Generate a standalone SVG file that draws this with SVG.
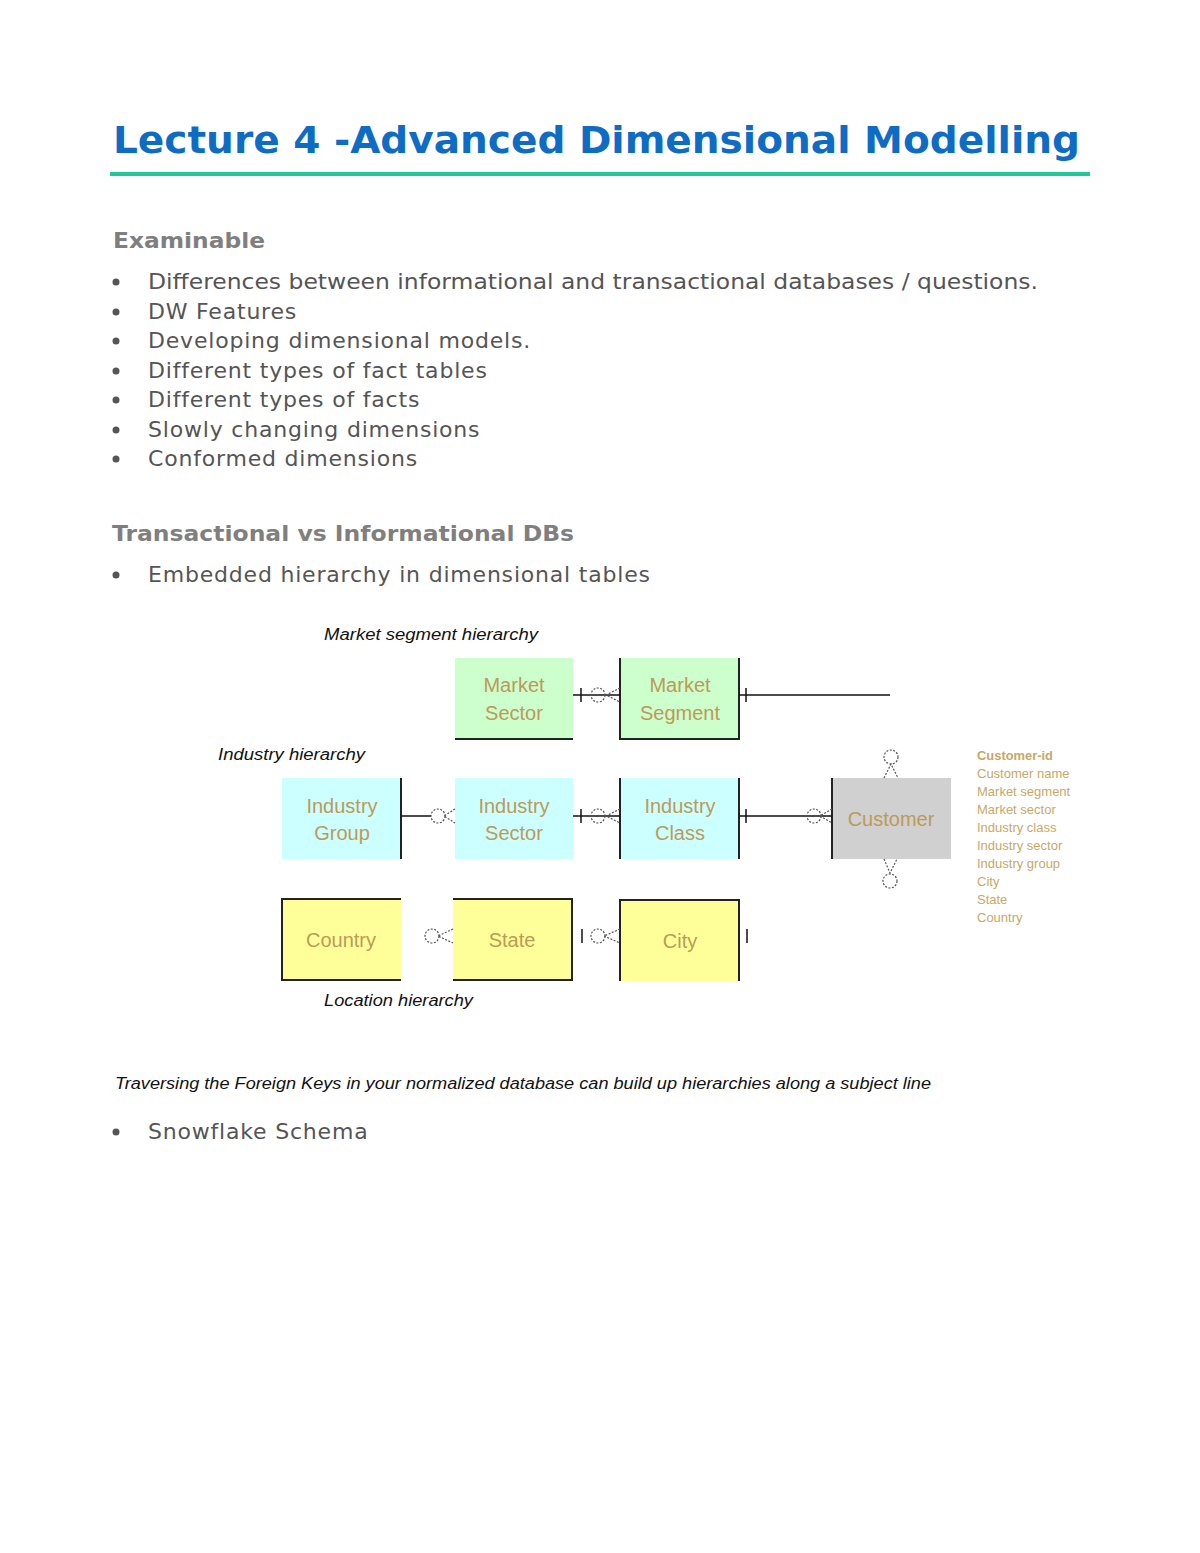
<svg xmlns="http://www.w3.org/2000/svg" width="1200" height="1553" viewBox="0 0 1200 1553">
<style>
.title{font-family:"DejaVu Sans",Verdana,sans-serif;font-weight:bold;font-size:38px;fill:#0f6cc4}
.h2{font-family:"DejaVu Sans",Verdana,sans-serif;font-weight:bold;font-size:21px;fill:#7f7f7f}
.body{font-family:"DejaVu Sans",Verdana,sans-serif;font-size:22px;fill:#555555;letter-spacing:0.8px}
.it{font-family:"Liberation Sans",Arial,sans-serif;font-style:italic;font-size:16px;fill:#111111}
.lbl{font-family:"Liberation Sans",Arial,sans-serif;font-size:20px;fill:#bd9a58;text-anchor:middle}
.attr{font-family:"Liberation Sans",Arial,sans-serif;font-size:13px;fill:#c8a866}
.bul{fill:#555555}
.bd{stroke:#222;stroke-width:2;fill:none}
.ln{stroke:#111;stroke-width:1.5;fill:none}
.ds{stroke:#555;stroke-width:1.2;stroke-dasharray:2 1.5;fill:none}
</style>

<g id="header">
<text class="title" x="113" y="153" textLength="967" lengthAdjust="spacingAndGlyphs">Lecture 4 -Advanced Dimensional Modelling</text>
<rect x="110" y="172" width="980" height="4" fill="#20c997"/>
</g>

<g id="examinable">
<text class="h2" x="113" y="248" textLength="152" lengthAdjust="spacingAndGlyphs" style="font-size:22px">Examinable</text>
<circle class="bul" cx="116" cy="282" r="3.5"/>
<text class="body" x="148" y="289" textLength="890" lengthAdjust="spacingAndGlyphs" style="letter-spacing:0">Differences between informational and transactional databases / questions.</text>
<circle class="bul" cx="116" cy="312" r="3.5"/>
<text class="body" x="148" y="319">DW Features</text>
<circle class="bul" cx="116" cy="341" r="3.5"/>
<text class="body" x="148" y="348">Developing dimensional models.</text>
<circle class="bul" cx="116" cy="371" r="3.5"/>
<text class="body" x="148" y="378">Different types of fact tables</text>
<circle class="bul" cx="116" cy="400" r="3.5"/>
<text class="body" x="148" y="407">Different types of facts</text>
<circle class="bul" cx="116" cy="430" r="3.5"/>
<text class="body" x="148" y="437">Slowly changing dimensions</text>
<circle class="bul" cx="116" cy="459" r="3.5"/>
<text class="body" x="148" y="466">Conformed dimensions</text>
</g>

<g id="section2">
<text class="h2" x="112" y="541" textLength="462" lengthAdjust="spacingAndGlyphs">Transactional vs Informational DBs</text>
<circle class="bul" cx="116" cy="575" r="3.5"/>
<text class="body" x="148" y="582">Embedded hierarchy in dimensional tables</text>
</g>

<g id="labels">
<text class="it" x="324" y="640" textLength="214" lengthAdjust="spacingAndGlyphs">Market segment hierarchy</text>
<text class="it" x="218" y="760" textLength="147" lengthAdjust="spacingAndGlyphs">Industry hierarchy</text>
<text class="it" x="324" y="1006" textLength="149" lengthAdjust="spacingAndGlyphs">Location hierarchy</text>
</g>

<g id="market-sector">
<rect x="455" y="658" width="118" height="81" fill="#ccffcc"/>
<line class="bd" x1="455" y1="739" x2="573" y2="739"/>
<text class="lbl" x="514" y="692">Market</text>
<text class="lbl" x="514" y="720">Sector</text>
</g>

<g id="market-segment">
<rect x="620" y="658" width="119" height="81" fill="#ccffcc"/>
<path class="bd" d="M620 658 V739 H739 V658"/>
<text class="lbl" x="680" y="692">Market</text>
<text class="lbl" x="680" y="720">Segment</text>
</g>

<g id="industry-group">
<rect x="282" y="778" width="119" height="81" fill="#ccffff"/>
<line class="bd" x1="401" y1="778" x2="401" y2="859"/>
<text class="lbl" x="342" y="813">Industry</text>
<text class="lbl" x="342" y="840">Group</text>
</g>

<g id="industry-sector">
<rect x="455" y="778" width="118" height="81" fill="#ccffff"/>
<text class="lbl" x="514" y="813">Industry</text>
<text class="lbl" x="514" y="840">Sector</text>
</g>

<g id="industry-class">
<rect x="620" y="778" width="119" height="81" fill="#ccffff"/>
<path class="bd" d="M620 778 V859 M739 778 V859"/>
<text class="lbl" x="680" y="813">Industry</text>
<text class="lbl" x="680" y="840">Class</text>
</g>

<g id="customer">
<rect x="832" y="778" width="119" height="81" fill="#d0d0d0"/>
<line class="bd" x1="832" y1="778" x2="832" y2="859"/>
<text class="lbl" x="891" y="826">Customer</text>
</g>

<g id="country">
<rect x="282" y="899" width="119" height="81" fill="#ffff99"/>
<path class="bd" d="M401 899 H282 V980 H401"/>
<text class="lbl" x="341" y="947">Country</text>
</g>

<g id="state">
<rect x="453" y="899" width="119" height="81" fill="#ffff99"/>
<path class="bd" d="M453 899 H572 V980 H453"/>
<text class="lbl" x="512" y="947">State</text>
</g>

<g id="city">
<rect x="620" y="900" width="119" height="81" fill="#ffff99"/>
<path class="bd" d="M620 981 V900 H739 V981"/>
<text class="lbl" x="680" y="948">City</text>
</g>

<g id="customer-attributes">
<text class="attr" x="977" y="760" font-weight="bold" textLength="76" lengthAdjust="spacingAndGlyphs">Customer-id</text>
<text class="attr" x="977" y="778">Customer name</text>
<text class="attr" x="977" y="796">Market segment</text>
<text class="attr" x="977" y="814">Market sector</text>
<text class="attr" x="977" y="832">Industry class</text>
<text class="attr" x="977" y="850">Industry sector</text>
<text class="attr" x="977" y="868">Industry group</text>
<text class="attr" x="977" y="886">City</text>
<text class="attr" x="977" y="904">State</text>
<text class="attr" x="977" y="922">Country</text>
</g>

<g id="connectors">
<!-- Market Sector - Market Segment -->
<line class="ln" x1="573" y1="695" x2="620" y2="695"/>
<line class="ln" x1="581" y1="688" x2="581" y2="702"/>
<circle class="ds" cx="598" cy="695" r="7"/>
<path class="ds" d="M620 688 L606 695 L620 702"/>
<!-- Market Segment - Customer -->
<line class="ln" x1="739" y1="695" x2="890" y2="695"/>
<line class="ln" x1="746" y1="688" x2="746" y2="702"/>
<!-- Customer top -->
<circle class="ds" cx="891" cy="757" r="7"/>
<path class="ds" d="M884 778 L891 764 L898 778"/>
<!-- Customer bottom -->
<path class="ds" d="M884 859 L890 873 L897 859"/>
<circle class="ds" cx="890" cy="881" r="7"/>
<!-- Industry Group - Industry Sector -->
<line class="ln" x1="401" y1="816" x2="431" y2="816"/>
<circle class="ds" cx="438" cy="816" r="7"/>
<path class="ds" d="M455 809 L444 816 L455 823"/>
<!-- Industry Sector - Industry Class -->
<line class="ln" x1="573" y1="816" x2="620" y2="816"/>
<line class="ln" x1="581" y1="809" x2="581" y2="823"/>
<circle class="ds" cx="598" cy="816" r="7"/>
<path class="ds" d="M620 809 L606 816 L620 823"/>
<!-- Industry Class - Customer -->
<line class="ln" x1="739" y1="816" x2="832" y2="816"/>
<line class="ln" x1="746" y1="809" x2="746" y2="823"/>
<circle class="ds" cx="814" cy="816" r="7"/>
<path class="ds" d="M832 809 L820 816 L832 823"/>
<!-- Country - State -->
<circle class="ds" cx="432" cy="936" r="7"/>
<path class="ds" d="M453 929 L438 936 L453 943"/>
<!-- State - City -->
<line class="ln" x1="582" y1="929" x2="582" y2="943"/>
<circle class="ds" cx="598" cy="936" r="7"/>
<path class="ds" d="M620 929 L604 936 L620 943"/>
<!-- City right -->
<line class="ln" x1="747" y1="929" x2="747" y2="943"/>
</g>

<g id="footer">
<text class="it" x="115" y="1089" textLength="816" lengthAdjust="spacingAndGlyphs">Traversing the Foreign Keys in your normalized database can build up hierarchies along a subject line</text>
<circle class="bul" cx="116" cy="1132" r="3.5"/>
<text class="body" x="148" y="1139">Snowflake Schema</text>
</g>
</svg>
